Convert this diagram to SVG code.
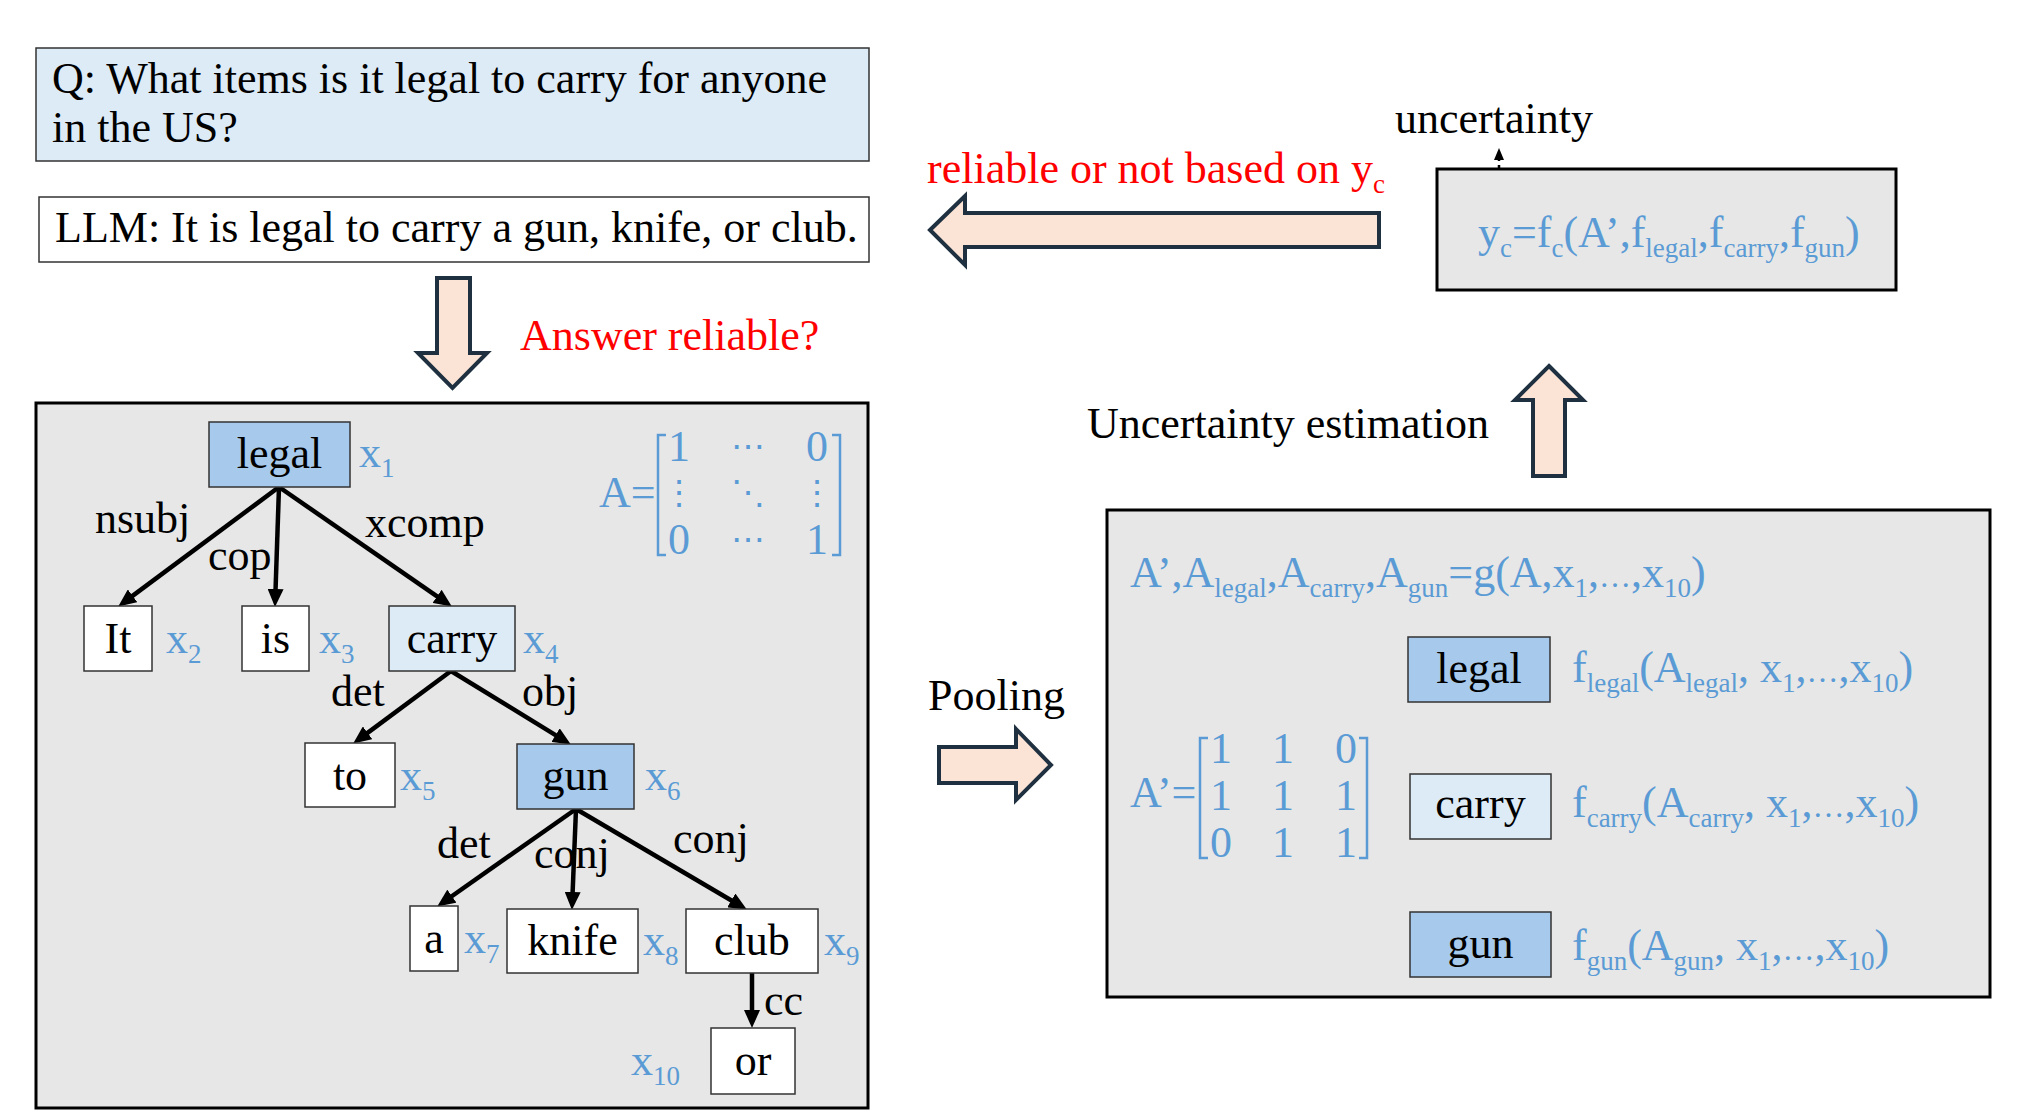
<svg xmlns="http://www.w3.org/2000/svg" width="2034" height="1116" viewBox="0 0 2034 1116">
<style>
text{font-family:"Liberation Serif","DejaVu Serif",serif;font-size:44px;fill:#000}
.b{fill:#5B9BD5}
.r{fill:#FF0000}
.s{font-size:27px}
.e{font-size:32px}
.d{font-size:34px}
.c{text-anchor:middle}
.node{stroke:#333;stroke-width:1.5}
.w{fill:#fff}.lb{fill:#DDEBF7}.mb{fill:#A7C9EB}
.panel{fill:#E7E7E7;stroke:#000;stroke-width:3}
.edge{stroke:#000;stroke-width:4.5;fill:none;marker-end:url(#ah)}
.edge2{stroke:#000;stroke-width:3.5;fill:none;marker-end:url(#ah)}
.dot{stroke:#000;stroke-width:2.5;stroke-dasharray:4 4;fill:none;marker-end:url(#ahs)}
.bigarrow{fill:#FBE4D6;stroke:#1F3140;stroke-width:4;stroke-linejoin:miter}
.br{stroke:#5B9BD5;stroke-width:2.5;fill:none}
</style>
<defs>
<marker id="ah" viewBox="0 0 18 16" refX="11" refY="8" markerWidth="18" markerHeight="16" markerUnits="userSpaceOnUse" orient="auto"><path d="M0,0 L18,8 L0,16 z" fill="#000"/></marker>
<marker id="ahs" viewBox="0 0 12 10" refX="7" refY="5" markerWidth="12" markerHeight="10" markerUnits="userSpaceOnUse" orient="auto"><path d="M0,0 L12,5 L0,10 z" fill="#000"/></marker>
</defs>
<rect width="2034" height="1116" fill="#fff"/>

<g id="question">
<rect x="36" y="48" width="833" height="113" fill="#DDEBF7" stroke="#333" stroke-width="1.5"/>
<text x="52" y="93">Q: What items is it legal to carry for anyone</text>
<text x="52" y="142">in the US?</text>
</g>
<g id="llm">
<rect x="39" y="197" width="830" height="65" fill="#fff" stroke="#333" stroke-width="1.5"/>
<text x="55" y="242">LLM: It is legal to carry a gun, knife, or club.</text>
</g>
<g id="arrow-down">
<polygon class="bigarrow" points="437,278 470,278 470,353 487,353 452.5,388 418,353 437,353"/>
<text class="r" x="520" y="350">Answer reliable?</text>
</g>

<g id="tree-panel">
<rect class="panel" x="36" y="403" width="832" height="705"/>
</g>

<g id="connectors">
<line class="edge" x1="279" y1="487" x2="123.8" y2="602.4"/>
<line class="edge" x1="279" y1="487" x2="275.2" y2="600"/>
<line class="edge" x1="279" y1="487" x2="446.1" y2="602.6"/>
<line class="edge" x1="451" y1="671" x2="358.8" y2="739.4"/>
<line class="edge" x1="451" y1="671" x2="564.9" y2="740.9"/>
<line class="edge" x1="576" y1="809" x2="442.9" y2="902.5"/>
<line class="edge" x1="576" y1="809" x2="572.2" y2="903"/>
<line class="edge" x1="576" y1="809" x2="740.8" y2="906"/>
<line class="edge" x1="752" y1="973" x2="752" y2="1021"/>
<line class="edge2" x1="1480" y1="702" x2="1480" y2="767"/>
<line class="edge2" x1="1481" y1="839" x2="1481" y2="905"/>
<line class="dot" x1="1499" y1="185" x2="1499" y2="153"/>
<line class="dot" x1="1154" y1="608" x2="1154" y2="727"/>
</g>

<g id="edge-labels">
<text x="95" y="533">nsubj</text>
<text x="208" y="570">cop</text>
<text x="365" y="537">xcomp</text>
<text x="331" y="706">det</text>
<text x="522" y="706">obj</text>
<text x="437" y="858">det</text>
<text x="534" y="868">conj</text>
<text x="673" y="853">conj</text>
<text x="764" y="1015">cc</text>
</g>

<g id="n-legal"><rect class="node mb" x="209" y="422" width="141" height="65"/><text class="c" x="279.5" y="468">legal</text><text class="b" x="359" y="467">x<tspan class="s" dy="10">1</tspan></text></g>
<g id="n-it"><rect class="node w" x="84" y="606" width="68" height="65"/><text class="c" x="118" y="653">It</text><text class="b" x="166" y="653">x<tspan class="s" dy="10">2</tspan></text></g>
<g id="n-is"><rect class="node w" x="242" y="606" width="67" height="65"/><text class="c" x="275.5" y="653">is</text><text class="b" x="319" y="653">x<tspan class="s" dy="10">3</tspan></text></g>
<g id="n-carry"><rect class="node lb" x="389" y="606" width="126" height="65"/><text class="c" x="452" y="653">carry</text><text class="b" x="523" y="653">x<tspan class="s" dy="10">4</tspan></text></g>
<g id="n-to"><rect class="node w" x="305" y="743" width="90" height="64"/><text class="c" x="350" y="790">to</text><text class="b" x="400" y="790">x<tspan class="s" dy="10">5</tspan></text></g>
<g id="n-gun"><rect class="node mb" x="517" y="744" width="117" height="65"/><text class="c" x="575.5" y="790">gun</text><text class="b" x="645" y="790">x<tspan class="s" dy="10">6</tspan></text></g>
<g id="n-a"><rect class="node w" x="410" y="906" width="48" height="65"/><text class="c" x="434" y="953">a</text><text class="b" x="464" y="953">x<tspan class="s" dy="10">7</tspan></text></g>
<g id="n-knife"><rect class="node w" x="507" y="909" width="131" height="64"/><text class="c" x="572.5" y="955">knife</text><text class="b" x="643" y="955">x<tspan class="s" dy="10">8</tspan></text></g>
<g id="n-club"><rect class="node w" x="686" y="909" width="132" height="64"/><text class="c" x="752" y="955">club</text><text class="b" x="824" y="955">x<tspan class="s" dy="10">9</tspan></text></g>
<g id="n-or"><rect class="node w" x="711" y="1028" width="84" height="66"/><text class="c" x="753" y="1075">or</text><text class="b" x="631" y="1075">x<tspan class="s" dy="10">10</tspan></text></g>

<g id="matrix-A">
<text class="b" x="599" y="507">A=</text>
<path class="br" d="M666,435 H658 V555 H666 M832,435 H840 V555 H832"/>
<text class="b c" x="679" y="461">1</text><text class="b c d" x="748" y="458">⋯</text><text class="b c" x="817" y="461">0</text>
<text class="b c d" x="679" y="504">⋮</text><text class="b c d" x="748" y="504">⋱</text><text class="b c d" x="817" y="504">⋮</text>
<text class="b c" x="679" y="554">0</text><text class="b c d" x="748" y="551">⋯</text><text class="b c" x="817" y="554">1</text>
</g>

<g id="arrow-left">
<polygon class="bigarrow" points="930,230 965,196 965,213 1379,213 1379,247 965,247 965,265"/>
<text class="r" x="927" y="183">reliable or not based on y<tspan class="s" dy="10">c</tspan></text>
</g>

<g id="uncertainty-box">
<text x="1395" y="133">uncertainty</text>
<rect class="panel" x="1437" y="169" width="459" height="121"/>
<text class="b" x="1478" y="247">y<tspan class="s" dy="10">c</tspan><tspan dy="-10">=f</tspan><tspan class="s" dy="10">c</tspan><tspan dy="-10">(A’,f</tspan><tspan class="s" dy="10">legal</tspan><tspan dy="-10">,f</tspan><tspan class="s" dy="10">carry</tspan><tspan dy="-10">,f</tspan><tspan class="s" dy="10">gun</tspan><tspan dy="-10">)</tspan></text>
</g>

<g id="arrow-up">
<polygon class="bigarrow" points="1549,366 1583,400 1565,400 1565,476 1533,476 1533,400 1515,400"/>
<text x="1087" y="438">Uncertainty estimation</text>
</g>

<g id="arrow-pooling">
<polygon class="bigarrow" points="939,747 1016,747 1016,729 1051,765 1016,800 1016,783 939,783"/>
<text x="928" y="710">Pooling</text>
</g>

<g id="pool-panel">
<rect class="panel" x="1107" y="510" width="883" height="487"/>
<text class="b" x="1130" y="587">A’,A<tspan class="s" dy="10">legal</tspan><tspan dy="-10">,A</tspan><tspan class="s" dy="10">carry</tspan><tspan dy="-10">,A</tspan><tspan class="s" dy="10">gun</tspan><tspan dy="-10">=g(A,x</tspan><tspan class="s" dy="10">1</tspan><tspan dy="-10">,</tspan><tspan class="e">…</tspan><tspan>,x</tspan><tspan class="s" dy="10">10</tspan><tspan dy="-10">)</tspan></text>
</g>

<g id="matrix-Ap">
<text class="b" x="1130" y="807">A’=</text>
<path class="br" d="M1208,738 H1200 V858 H1208 M1359,738 H1367 V858 H1359"/>
<text class="b c" x="1221" y="763">1</text><text class="b c" x="1283" y="763">1</text><text class="b c" x="1346" y="763">0</text>
<text class="b c" x="1221" y="810">1</text><text class="b c" x="1283" y="810">1</text><text class="b c" x="1346" y="810">1</text>
<text class="b c" x="1221" y="857">0</text><text class="b c" x="1283" y="857">1</text><text class="b c" x="1346" y="857">1</text>
</g>

<g id="p-legal"><rect class="node mb" x="1408" y="637" width="142" height="65"/><text class="c" x="1479" y="683">legal</text>
<text class="b" x="1572" y="682">f<tspan class="s" dy="10">legal</tspan><tspan dy="-10">(A</tspan><tspan class="s" dy="10">legal</tspan><tspan dy="-10">, x</tspan><tspan class="s" dy="10">1</tspan><tspan dy="-10">,</tspan><tspan class="e">…</tspan><tspan>,x</tspan><tspan class="s" dy="10">10</tspan><tspan dy="-10">)</tspan></text></g>
<g id="p-carry"><rect class="node lb" x="1410" y="774" width="141" height="65"/><text class="c" x="1480.5" y="818">carry</text>
<text class="b" x="1572" y="817">f<tspan class="s" dy="10">carry</tspan><tspan dy="-10">(A</tspan><tspan class="s" dy="10">carry</tspan><tspan dy="-10">, x</tspan><tspan class="s" dy="10">1</tspan><tspan dy="-10">,</tspan><tspan class="e">…</tspan><tspan>,x</tspan><tspan class="s" dy="10">10</tspan><tspan dy="-10">)</tspan></text></g>
<g id="p-gun"><rect class="node mb" x="1410" y="912" width="141" height="65"/><text class="c" x="1480.5" y="958">gun</text>
<text class="b" x="1572" y="960">f<tspan class="s" dy="10">gun</tspan><tspan dy="-10">(A</tspan><tspan class="s" dy="10">gun</tspan><tspan dy="-10">, x</tspan><tspan class="s" dy="10">1</tspan><tspan dy="-10">,</tspan><tspan class="e">…</tspan><tspan>,x</tspan><tspan class="s" dy="10">10</tspan><tspan dy="-10">)</tspan></text></g>
</svg>
